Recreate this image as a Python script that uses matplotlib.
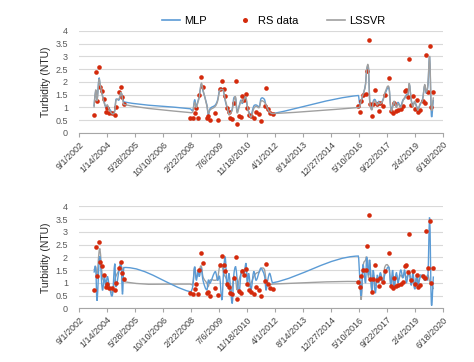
import matplotlib
matplotlib.use("Agg")
import matplotlib.pyplot as plt
import matplotlib.dates as mdates
from matplotlib.path import Path
from matplotlib.patches import PathPatch
from matplotlib.lines import Line2D
import numpy as np
import pandas as pd

plt.rcParams['font.family'] = ['Liberation Sans', 'DejaVu Sans']

# fechas de las observaciones (mismas para los dos paneles)
fechas = [
    '2003-05-27', '2003-06-26', '2003-07-19', '2003-08-24', '2003-09-11', '2003-10-23',
    '2003-11-28', '2003-12-22', '2004-01-21', '2004-02-25', '2004-04-20', '2004-06-01',
    '2004-06-19', '2004-08-17', '2004-09-22', '2004-10-16', '2004-11-09',
    '2008-02-08', '2008-03-27', '2008-04-26', '2008-05-26', '2008-06-30', '2008-07-18',
    '2008-08-23', '2008-09-22', '2008-12-02', '2008-12-26', '2009-01-25', '2009-05-01',
    '2009-06-11', '2009-07-17', '2009-08-28', '2009-09-26', '2009-10-26', '2009-11-25',
    '2009-12-31', '2010-01-24', '2010-02-28', '2010-03-24', '2010-04-29', '2010-05-23',
    '2010-06-28', '2010-08-03', '2010-08-27', '2010-10-01', '2010-10-31', '2010-11-24',
    '2010-12-18', '2011-01-28', '2011-03-17', '2011-04-28', '2011-06-26', '2011-07-26',
    '2011-09-29', '2011-10-23', '2011-11-22', '2011-12-28', '2012-02-19',
    '2016-04-26', '2016-05-26', '2016-06-19', '2016-07-18', '2016-09-04', '2016-09-22',
    '2016-10-27', '2016-11-14', '2016-12-26', '2017-01-19', '2017-02-24', '2017-04-01',
    '2017-04-25', '2017-05-24', '2017-07-17', '2017-08-10', '2017-10-26', '2017-12-01',
    '2017-12-31', '2018-01-24', '2018-03-07', '2018-04-06', '2018-05-23', '2018-07-03',
    '2018-08-02', '2018-09-01', '2018-10-01', '2018-10-25', '2018-11-29', '2018-12-29',
    '2019-01-28', '2019-03-05', '2019-03-29', '2019-05-04', '2019-06-20', '2019-07-26',
    '2019-08-24', '2019-09-23', '2019-10-23', '2019-11-22', '2019-12-28',
]

rs_data = [
    0.71, 2.40, 1.25, 2.60, 1.80, 1.65, 1.32, 0.83, 0.97, 0.80, 0.80, 0.70, 1.00, 1.60, 1.80, 1.40, 1.15,
    0.60, 0.57, 0.77, 0.97, 0.57, 1.50, 2.18, 1.79, 0.60, 0.65, 0.50, 0.78, 0.52, 1.71, 2.05, 1.71,
    1.45, 0.97, 0.83, 0.60, 0.55, 1.17, 2.03, 0.36, 0.68, 0.62, 1.47, 1.30, 1.53, 0.97, 0.71, 0.65,
    0.57, 0.82, 0.73, 0.47, 1.06, 1.75, 0.96, 0.78, 0.75,
    1.04, 0.83, 1.27, 1.50, 1.51, 2.43, 3.64, 1.14, 0.65, 1.13, 1.69, 1.12, 0.86, 1.17, 1.04, 1.48,
    2.17, 0.86, 0.80, 1.17, 0.87, 0.91, 0.96, 1.04, 1.66, 1.69, 1.43, 2.90, 1.10, 1.47, 0.96, 1.30,
    0.83, 0.91, 1.27, 1.19, 3.05, 1.60, 3.43, 1.01, 1.60,
]

# panel superior
mlp_sup = [
    1.05, 1.65, 1.30, 2.15, 1.90, 1.50, 1.20, 1.00, 1.05, 0.95, 0.80, 0.90, 1.30, 1.30, 1.55, 1.45, 1.22,
    0.95, 0.90, 1.30, 1.05, 1.30, 1.45, 1.90, 1.65, 1.10, 0.72, 0.95, 1.10, 1.30, 1.70, 1.75, 1.60,
    1.25, 1.00, 0.75, 0.85, 0.95, 1.35, 1.35, 0.85, 1.05, 1.30, 1.15, 1.40, 1.35, 1.00, 0.85, 0.70,
    1.05, 1.10, 1.05, 1.35, 1.30, 1.05, 0.90, 0.80, 0.76,
    1.47, 1.10, 1.25, 1.45, 1.95, 2.45, 2.50, 1.35, 0.95, 1.25, 1.30, 1.05, 1.25, 1.10, 1.35, 1.50,
    1.75, 0.95, 1.05, 1.20, 1.05, 1.20, 1.05, 1.30, 1.35, 1.50, 1.50, 1.90, 1.30, 1.10, 1.20, 1.05,
    0.95, 1.10, 1.35, 1.85, 1.55, 1.90, 2.95, 0.70, 1.30,
]
lssvr_sup = [
    1.00, 1.70, 1.25, 2.10, 1.95, 1.45, 1.15, 1.05, 1.10, 0.90, 0.75, 0.85, 1.25, 1.35, 1.60, 1.35, 1.12,
    0.80, 0.85, 1.20, 1.00, 1.25, 1.40, 1.95, 1.70, 1.05, 0.78, 0.90, 1.05, 1.25, 1.65, 1.70, 1.65,
    1.30, 1.05, 0.72, 0.78, 0.90, 1.25, 1.40, 0.80, 1.00, 1.25, 1.20, 1.35, 1.40, 1.05, 0.80, 0.62,
    0.95, 1.05, 1.00, 1.25, 1.20, 1.10, 0.95, 0.82, 0.76,
    1.00, 1.05, 1.30, 1.50, 1.90, 2.50, 2.55, 1.30, 0.90, 1.20, 1.25, 1.10, 1.20, 1.15, 1.30, 1.55,
    1.80, 0.90, 1.00, 1.25, 1.00, 1.15, 1.00, 1.25, 1.40, 1.45, 1.55, 1.95, 1.25, 1.05, 1.25, 1.00,
    0.90, 1.15, 1.30, 1.90, 1.60, 1.95, 3.00, 0.95, 1.40,
]

# panel inferior
mlp_inf = [
    1.40, 1.60, 0.30, 1.75, 2.00, 0.72, 1.25, 0.85, 1.25, 0.85, 0.52, 1.75, 0.85, 1.50, 1.75, 0.55, 1.60,
    0.65, 0.90, 1.63, 1.10, 1.50, 1.24, 1.57, 1.10, 0.72, 1.10, 0.98, 1.44, 1.10, 1.24, 0.33, 1.50,
    2.00, 0.85, 1.37, 0.85, 0.20, 1.24, 1.63, 1.18, 0.59, 1.37, 1.44, 1.37, 1.76, 0.98, 1.37, 0.72,
    1.44, 1.10, 1.44, 1.57, 1.24, 0.72, 1.10, 1.37, 1.00,
    2.05, 1.10, 0.50, 1.70, 1.00, 2.00, 1.30, 1.90, 0.70, 1.50, 0.60, 1.30, 1.00, 1.40, 1.00, 1.30,
    1.60, 0.90, 1.50, 0.80, 1.40, 1.00, 1.50, 1.20, 1.50, 1.00, 1.30, 1.45, 0.90, 1.40, 0.75, 1.30,
    0.90, 1.20, 1.30, 1.10, 1.20, 1.30, 3.55, 0.20, 1.25,
]
lssvr_inf = [
    1.50, 1.60, 1.25, 2.20, 2.30, 1.25, 1.05, 1.10, 0.98, 0.85, 0.60, 1.10, 1.25, 1.50, 1.65, 1.50, 1.05,
    0.95, 1.00, 1.60, 1.24, 1.37, 1.50, 1.66, 1.24, 0.98, 0.85, 1.10, 1.10, 1.18, 1.63, 1.70, 1.37,
    1.24, 1.10, 0.85, 0.59, 0.85, 1.24, 1.10, 0.72, 1.10, 1.37, 1.50, 1.50, 1.57, 1.10, 0.85, 0.98,
    1.24, 1.37, 1.44, 1.57, 1.50, 1.10, 0.98, 0.92, 0.95,
    1.05, 0.90, 0.35, 1.60, 1.90, 2.00, 1.20, 1.90, 0.60, 1.30, 0.90, 1.20, 1.10, 1.30, 1.00, 1.60,
    1.60, 0.90, 1.30, 0.90, 1.30, 1.10, 1.30, 1.20, 1.40, 1.20, 1.30, 1.40, 1.00, 1.30, 0.80, 1.20,
    1.00, 1.30, 1.20, 1.10, 1.20, 1.30, 1.05, 1.00, 0.75,
]

COLOR_MLP = '#5B9BD5'
COLOR_LSSVR = '#A0A0A0'
COLOR_RS = '#D42A0C'


def linea_suavizada(x, y):
    # curva tipo "smoothed line" de Excel (Hermite cubica con pendientes centrales)
    x = np.asarray(x, float)
    y = np.asarray(y, float)
    m = np.empty(len(x))
    m[1:-1] = (y[2:] - y[:-2]) / (x[2:] - x[:-2])
    m[0] = (y[1] - y[0]) / (x[1] - x[0])
    m[-1] = (y[-1] - y[-2]) / (x[-1] - x[-2])
    verts = [(x[0], y[0])]
    codes = [Path.MOVETO]
    for i in range(len(x) - 1):
        h = (x[i + 1] - x[i]) / 3
        verts += [(x[i] + h, y[i] + m[i] * h),
                  (x[i + 1] - h, y[i + 1] - m[i + 1] * h),
                  (x[i + 1], y[i + 1])]
        codes += [Path.CURVE4] * 3
    return Path(verts, codes)


x = mdates.date2num(pd.to_datetime(fechas))
inicio = pd.Timestamp('2002-09-01')
ticks = [inicio + pd.Timedelta(days=500 * k) for k in range(14)]
etiquetas = [f"{t.month}/{t.day}/{t.year}" for t in ticks]

fig = plt.figure(figsize=(4.74, 3.62), dpi=100)
ax1 = fig.add_axes([0.1667, 0.6326, 0.768, 0.2818])
ax2 = fig.add_axes([0.1667, 0.1483, 0.768, 0.2818])


def estilo(ax):
    ax.set_xlim(mdates.date2num(ticks[0]), mdates.date2num(ticks[-1]))
    ax.set_ylim(0, 4)
    ax.set_yticks(np.arange(0, 4.01, 0.5))
    ax.set_yticklabels(['0', '0.5', '1', '1.5', '2', '2.5', '3', '3.5', '4'])
    ax.set_xticks(mdates.date2num(ticks))
    ax.set_xticklabels(etiquetas, rotation=45, ha='right', va='top', rotation_mode='anchor')
    ax.grid(axis='y', color='#D9D9D9', linewidth=0.8)
    ax.set_axisbelow(True)
    for s in ['top', 'right', 'left']:
        ax.spines[s].set_visible(False)
    ax.spines['bottom'].set_color('#A6A6A6')
    ax.tick_params(axis='y', length=0, labelsize=6.5, labelcolor='#595959', pad=8)
    ax.tick_params(axis='x', length=3, color='#A6A6A6', labelsize=6.5, labelcolor='#404040', pad=2)
    ax.set_ylabel('Turbidity (NTU)', fontsize=7.5, color='#262626', labelpad=3)


# panel superior: MLP, RS, LSSVR
ax1.add_patch(PathPatch(linea_suavizada(x, mlp_sup), fill=False, edgecolor=COLOR_MLP, linewidth=1.0, zorder=2))
ax1.plot(x, rs_data, 'o', color=COLOR_RS, markersize=3.3, markeredgewidth=0, zorder=3)
ax1.add_patch(PathPatch(linea_suavizada(x, lssvr_sup), fill=False, edgecolor=COLOR_LSSVR, linewidth=1.0, zorder=4))
estilo(ax1)

# panel inferior
ax2.add_patch(PathPatch(linea_suavizada(x, lssvr_inf), fill=False, edgecolor=COLOR_LSSVR, linewidth=1.0, zorder=2))
ax2.add_patch(PathPatch(linea_suavizada(x, mlp_inf), fill=False, edgecolor=COLOR_MLP, linewidth=1.0, zorder=3))
ax2.plot(x, rs_data, 'o', color=COLOR_RS, markersize=3.3, markeredgewidth=0, zorder=4)
estilo(ax2)

handles = [
    Line2D([], [], color=COLOR_MLP, linewidth=1.2),
    Line2D([], [], color=COLOR_RS, marker='o', linestyle='none', markersize=3.6, markeredgewidth=0),
    Line2D([], [], color=COLOR_LSSVR, linewidth=1.2),
]
fig.legend(handles, ['MLP', 'RS data', 'LSSVR'], loc='center', bbox_to_anchor=(0.578, 0.942),
           ncol=3, frameon=False, fontsize=8, handlelength=1.6, columnspacing=2.6, handletextpad=0.4)

fig.savefig('out.png', dpi=100, facecolor='white')
